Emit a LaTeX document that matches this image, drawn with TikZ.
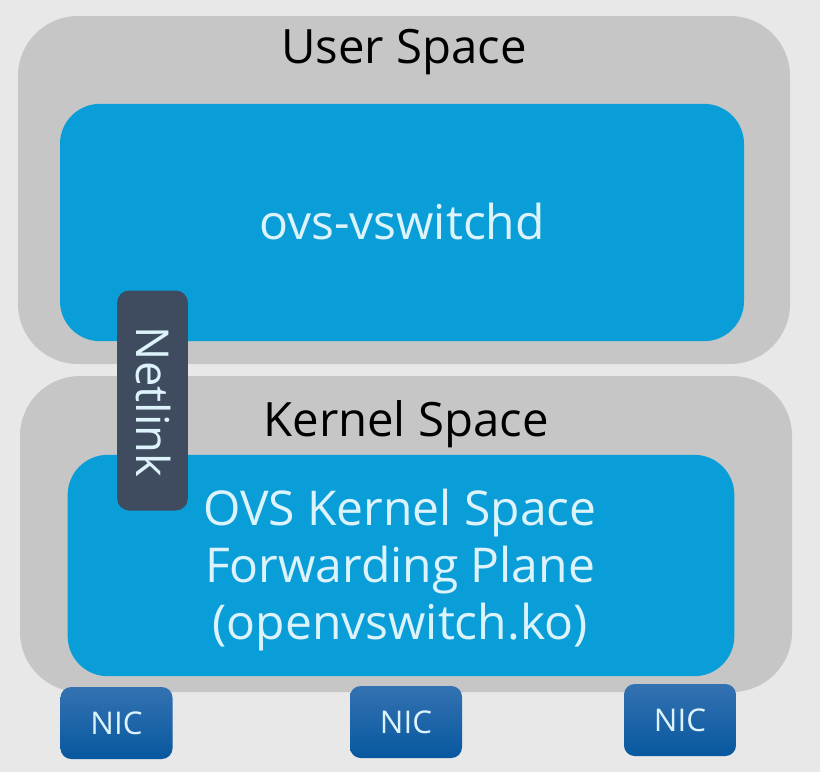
\documentclass[tikz,border=0pt]{standalone}
\usepackage{fontspec}
\setmainfont{Open Sans}
\usetikzlibrary{positioning}
\definecolor{pagegrey}{HTML}{E8E8E8}
\definecolor{spacegrey}{HTML}{C6C6C6}
\definecolor{ovsblue}{HTML}{0A9ED8}
\definecolor{slate}{HTML}{3F4B5E}
\definecolor{nictop}{HTML}{3472B2}
\definecolor{nicbot}{HTML}{07589F}
\definecolor{softwhite}{HTML}{DDF3FB}
\tikzset{
  space/.style={fill=spacegrey,rounded corners=45pt,inner sep=0pt},
  ovs/.style={fill=ovsblue,rounded corners=30pt,inner sep=0pt,text=softwhite,font=\fontsize{36}{43}\selectfont,align=center},
  title/.style={text=black,font=\fontsize{35.5}{40}\selectfont,inner sep=0pt},
  nic/.style={top color=nictop,bottom color=nicbot,rounded corners=8pt,minimum width=84pt,minimum height=54pt,inner sep=0pt,text=softwhite,font=\fontsize{23.5}{26}\selectfont},
  netlink/.style={fill=slate,rounded corners=9pt,minimum width=165pt,minimum height=53pt,inner sep=0pt,text=softwhite,font=\fontsize{34}{40}\selectfont,rotate=-90}
}
\begin{document}
\begin{tikzpicture}[x=0.75pt,y=-0.75pt]
\useasboundingbox[fill=pagegrey] (0,0) rectangle (820,772);
% outer panels
\node[space,minimum width=579pt,minimum height=261pt] (user) at (404,190) {};
\node[space,minimum width=579pt,minimum height=237pt] (kernel) at (406,534) {};
\node[title] (usertitle) at (404,52) {User Space};
\node[title] (kerneltitle) at (406,424) {Kernel Space};
% blue boxes
\node[ovs,minimum width=513pt,minimum height=178pt] (vswitchd) at (402,222.5) {};
\node[ovs,minimum width=500pt,minimum height=166pt] (forward) at (401,565.5) {};
\node[ovs,fill=none] (vswitchdtext) at (402,221) {ovs-vswitchd};
\node[ovs,fill=none] (forwardtext) at (400,570) {OVS Kernel Space\\Forwarding Plane\\(openvswitch.ko)};
\node[netlink] (link) at (152.5,400.5) {};
\node[netlink,fill=none,minimum width=0pt] (linktext) at (153,402) {Netlink};
% nics
\node[nic] (nicA) at (116.5,723) {NIC};
\node[nic] (nicB) at (406,722) {NIC};
\node[nic] (nicC) at (680,720) {NIC};
\end{tikzpicture}
\end{document}
